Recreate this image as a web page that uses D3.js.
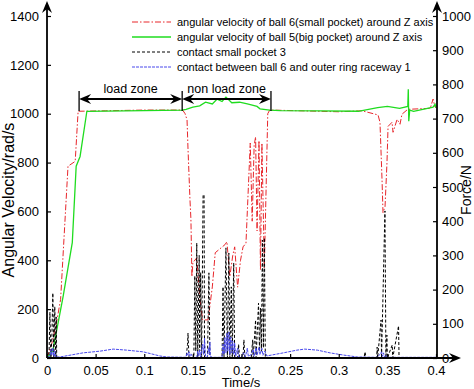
<!DOCTYPE html>
<meta charset="utf-8">
<script src="https://d3js.org/d3.v7.min.js"></script>
<style>
body { margin: 0; background: #fff; }
text { font-family: Arial, "Liberation Sans", sans-serif; fill: #000; }
</style>
<body>
<script>
// ---- data ----
// angular velocity of ball 6 (rad/s, left axis)
var redT = [0, 0.005, 0.01, 0.014, 0.0216, 0.029, 0.032, 0.06, 0.1, 0.1395, 0.142, 0.144, 0.145, 0.147, 0.148, 0.149, 0.150, 0.154, 0.157, 0.160, 0.1656, 0.170, 0.173, 0.183, 0.185, 0.188, 0.191, 0.193, 0.196, 0.199, 0.2016, 0.2046, 0.209, 0.211, 0.213, 0.2145, 0.216, 0.218, 0.2195, 0.221, 0.2235, 0.227, 0.229, 0.26, 0.30, 0.324, 0.3404, 0.3424, 0.3445, 0.3455, 0.3476, 0.3496, 0.3507, 0.3548, 0.3558, 0.360, 0.363, 0.365, 0.371, 0.394, 0.397, 0.399, 0.4];
var redV = [0, 60, 150, 240, 785, 805, 1010, 1012, 1015, 1015, 1000, 975, 855, 650, 567, 333, 390, 410, 250, 156, 156, 291, 431, 464, 476, 333, 420, 455, 290, 400, 455, 470, 880, 560, 870, 905, 520, 890, 360, 880, 370, 1000, 1015, 1012, 1008, 1012, 995, 965, 730, 595, 620, 800, 948, 965, 924, 977, 957, 998, 1018, 1022, 1060, 1027, 1025];

// angular velocity of ball 5 (rad/s, left axis)
var greenT = [0, 0.006, 0.0165, 0.026, 0.030, 0.034, 0.041, 0.08, 0.139, 0.143, 0.150, 0.157, 0.163, 0.170, 0.175, 0.180, 0.184, 0.190, 0.198, 0.206, 0.216, 0.219, 0.229, 0.24, 0.28, 0.32, 0.34, 0.35, 0.3625, 0.371, 0.3715, 0.372, 0.373, 0.377, 0.397, 0.399, 0.4];
var greenV = [0, 30, 250, 472, 785, 825, 1010, 1012, 1015, 1018, 1027, 1032, 1047, 1040, 1060, 1050, 1068, 1045, 1047, 1040, 1030, 1020, 1015, 1013, 1012, 1010, 1025, 1030, 1022, 1030, 1100, 969, 1015, 1010, 1027, 1039, 1025];

// contact small pocket 3 (N, right axis)
var blackT = [0, 0.002, 0.003, 0.004, 0.005, 0.006, 0.007, 0.008, 0.009, 0.0095, 0.010, 0.143, 0.1445, 0.145, 0.146, 0.151, 0.152, 0.153, 0.154, 0.155, 0.1565, 0.157, 0.158, 0.159, 0.1605, 0.1615, 0.162, 0.165, 0.1665, 0.1675, 0.18, 0.181, 0.182, 0.184, 0.1855, 0.187, 0.188, 0.1895, 0.1905, 0.192, 0.193, 0.196, 0.197, 0.198, 0.2015, 0.2025, 0.2035, 0.210, 0.2115, 0.212, 0.2145, 0.215, 0.2175, 0.2185, 0.2195, 0.2205, 0.2215, 0.2225, 0.2235, 0.2245, 0.326, 0.327, 0.328, 0.339, 0.3395, 0.340, 0.3435, 0.344, 0.3475, 0.3485, 0.3495, 0.350, 0.355, 0.3555, 0.3615, 0.362, 0.4];
var blackV = [0, 0, 134, 0, 60, 190, 0, 150, 0, 120, 0, 0, 40, 73, 0, 0, 240, 20, 336, 0, 300, 20, 250, 0, 477, 477, 0, 0, 249, 0, 0, 208, 0, 322, 0, 307, 0, 208, 0, 278, 0, 0, 40, 0, 0, 53, 0, 0, 53, 0, 111, 0, 160, 20, 146, 20, 345, 30, 351, 0, 0, 18, 0, 0, 32, 0, 111, 0, 430, 0, 67, 0, 38, 0, 94, 0, 0];

// contact between ball 6 and outer ring raceway 1 (N, right axis)
var blueT = [0, 0.003, 0.004, 0.005, 0.006, 0.007, 0.008, 0.009, 0.0134, 0.037, 0.0545, 0.068, 0.082, 0.099, 0.116, 0.123, 0.143, 0.144, 0.145, 0.146, 0.147, 0.148, 0.15, 0.154, 0.155, 0.156, 0.157, 0.158, 0.16, 0.161, 0.162, 0.163, 0.165, 0.166, 0.167, 0.1675, 0.168, 0.17, 0.18, 0.181, 0.182, 0.183, 0.184, 0.185, 0.186, 0.187, 0.188, 0.189, 0.19, 0.191, 0.192, 0.193, 0.194, 0.196, 0.197, 0.2, 0.202, 0.204, 0.206, 0.207, 0.21, 0.212, 0.213, 0.215, 0.216, 0.218, 0.219, 0.221, 0.222, 0.224, 0.226, 0.243, 0.257, 0.265, 0.278, 0.291, 0.304, 0.319, 0.34, 0.342, 0.344, 0.345, 0.346, 0.347, 0.349, 0.35, 0.4];
var blueV = [2, 5, 25, 8, 30, 5, 20, 3, 3, 15, 20, 26, 23, 18, 6, 3, 2, 15, 8, 18, 5, 12, 2, 2, 20, 5, 23, 3, 40, 10, 58, 5, 2, 30, 10, 47, 5, 2, 2, 40, 10, 60, 15, 73, 20, 76, 10, 61, 15, 50, 10, 44, 5, 29, 3, 3, 15, 3, 29, 5, 10, 25, 5, 30, 8, 32, 10, 28, 8, 20, 6, 15, 23, 26, 23, 15, 9, 3, 2, 10, 18, 5, 15, 3, 8, 2, 2];

var xTicks = [0, 0.05, 0.1, 0.15, 0.2, 0.25, 0.3, 0.35, 0.4];
var xTickLabels = ["0", "0.05", "0.1", "0.15", "0.2", "0.25", "0.3", "0.35", "0.4"];
var leftTicks = [0, 200, 400, 600, 800, 1000, 1200, 1400];
var rightTicks = [0, 100, 200, 300, 400, 500, 600, 700, 800, 900, 1000];

var legendNames = [
  "angular velocity of ball 6(small pocket) around Z axis",
  "angular velocity of ball 5(big pocket) around Z axis",
  "contact small pocket 3",
  "contact between ball 6 and outer ring raceway 1"
];
var zoneT = [0.033, 0.139, 0.2303];
var zoneNames = ["load zone", "non load zone"];

// ---- chart ----
var W = 474, H = 389;
var x = d3.scaleLinear().domain([0, 0.4]).range([47, 436]);
var yL = d3.scaleLinear().domain([0, 1400]).range([358, 16]);
var yR = d3.scaleLinear().domain([0, 1000]).range([358, 16]);

var svg = d3.select("body").append("svg")
    .attr("width", W)
    .attr("height", H);

function arrowHead(px, py, angle) {
  svg.append("path")
      .attr("d", "M0,0L-12,-5L-8,0L-12,5Z")
      .attr("transform", "translate(" + px + "," + py + ") rotate(" + angle + ")")
      .attr("fill", "#000");
}

var styles = [
  {color: "#e8262b", dash: "6,2,1.5,2", width: 1},
  {color: "#1fdc1f", dash: null, width: 1.3},
  {color: "#000000", dash: "3,2", width: 1},
  {color: "#4848ec", dash: "3,1", width: 1}
];

var series = [
  {t: redT, v: redV, y: yL},
  {t: greenT, v: greenV, y: yL},
  {t: blackT, v: blackV, y: yR},
  {t: blueT, v: blueV, y: yR}
];

series.forEach(function(s, i) {
  var line = d3.line()
      .x(function(d) { return x(d[0]); })
      .y(function(d) { return s.y(d[1]); });
  svg.append("path")
      .datum(d3.zip(s.t, s.v))
      .attr("d", line)
      .attr("fill", "none")
      .attr("stroke", styles[i].color)
      .attr("stroke-width", styles[i].width)
      .attr("stroke-dasharray", styles[i].dash);
});

// axes
var gx = svg.append("g")
    .attr("transform", "translate(0,358)")
    .call(d3.axisBottom(x).tickValues(xTicks)
        .tickFormat(function(d, i) { return xTickLabels[i]; })
        .tickSizeInner(-4).tickSizeOuter(0).tickPadding(8));
var gl = svg.append("g")
    .attr("transform", "translate(47,0)")
    .call(d3.axisLeft(yL).tickValues(leftTicks).tickFormat(d3.format("d"))
        .tickSizeInner(-4).tickSizeOuter(0).tickPadding(8));
var gr = svg.append("g")
    .attr("transform", "translate(437,0)")
    .call(d3.axisRight(yR).tickValues(rightTicks).tickFormat(d3.format("d"))
        .tickSizeInner(-4).tickSizeOuter(0).tickPadding(5));

[gx, gl, gr].forEach(function(g) {
  g.select(".domain").remove();
  g.selectAll("text").attr("font-size", 13).attr("font-family", "Arial, 'Liberation Sans', sans-serif").attr("fill", "#000");
  g.selectAll("line").attr("stroke-width", 1.2);
});

svg.append("line").attr("x1", 47).attr("y1", 358).attr("x2", 47).attr("y2", 4)
    .attr("stroke", "#000").attr("stroke-width", 1.8);
svg.append("line").attr("x1", 437).attr("y1", 358).attr("x2", 437).attr("y2", 4)
    .attr("stroke", "#000").attr("stroke-width", 1.8);
svg.append("line").attr("x1", 47).attr("y1", 358).attr("x2", 458).attr("y2", 358)
    .attr("stroke", "#000").attr("stroke-width", 1.8);
arrowHead(47, 1, -90);
arrowHead(437, 1, -90);
arrowHead(461, 358, 0);

// axis titles
svg.append("text")
    .attr("transform", "translate(14,200) rotate(-90)")
    .attr("text-anchor", "middle")
    .attr("font-size", 16)
    .text("Angular Velocity/rad/s");
svg.append("text")
    .attr("transform", "translate(471,190) rotate(-90)")
    .attr("text-anchor", "middle")
    .attr("font-size", 14)
    .text("Force/N");
svg.append("text")
    .attr("x", 241).attr("y", 387)
    .attr("text-anchor", "middle")
    .attr("font-size", 13)
    .text("Time/s");

// load zone annotation
var zy = 99;
zoneT.forEach(function(t) {
  svg.append("line")
      .attr("x1", x(t)).attr("x2", x(t))
      .attr("y1", 91).attr("y2", 111)
      .attr("stroke", "#000").attr("stroke-width", 1.3);
});
zoneNames.forEach(function(name, i) {
  var a = x(zoneT[i]), b = x(zoneT[i + 1]);
  svg.append("line")
      .attr("x1", a + 4).attr("x2", b - 4)
      .attr("y1", zy).attr("y2", zy)
      .attr("stroke", "#000").attr("stroke-width", 1.8);
  arrowHead(a, zy, 180);
  arrowHead(b, zy, 0);
  svg.append("text")
      .attr("x", (a + b) / 2).attr("y", 93)
      .attr("text-anchor", "middle")
      .attr("font-size", 12.5)
      .text(name);
});

// legend
var leg = svg.append("g");
legendNames.forEach(function(name, i) {
  var ly = 22 + i * 15;
  leg.append("line")
      .attr("x1", 132).attr("x2", 171)
      .attr("y1", ly).attr("y2", ly)
      .attr("stroke", styles[i].color)
      .attr("stroke-width", styles[i].width)
      .attr("stroke-dasharray", styles[i].dash);
  leg.append("text")
      .attr("x", 177).attr("y", ly + 4)
      .attr("font-size", 11)
      .text(name);
});
</script>
</body>
</html>
